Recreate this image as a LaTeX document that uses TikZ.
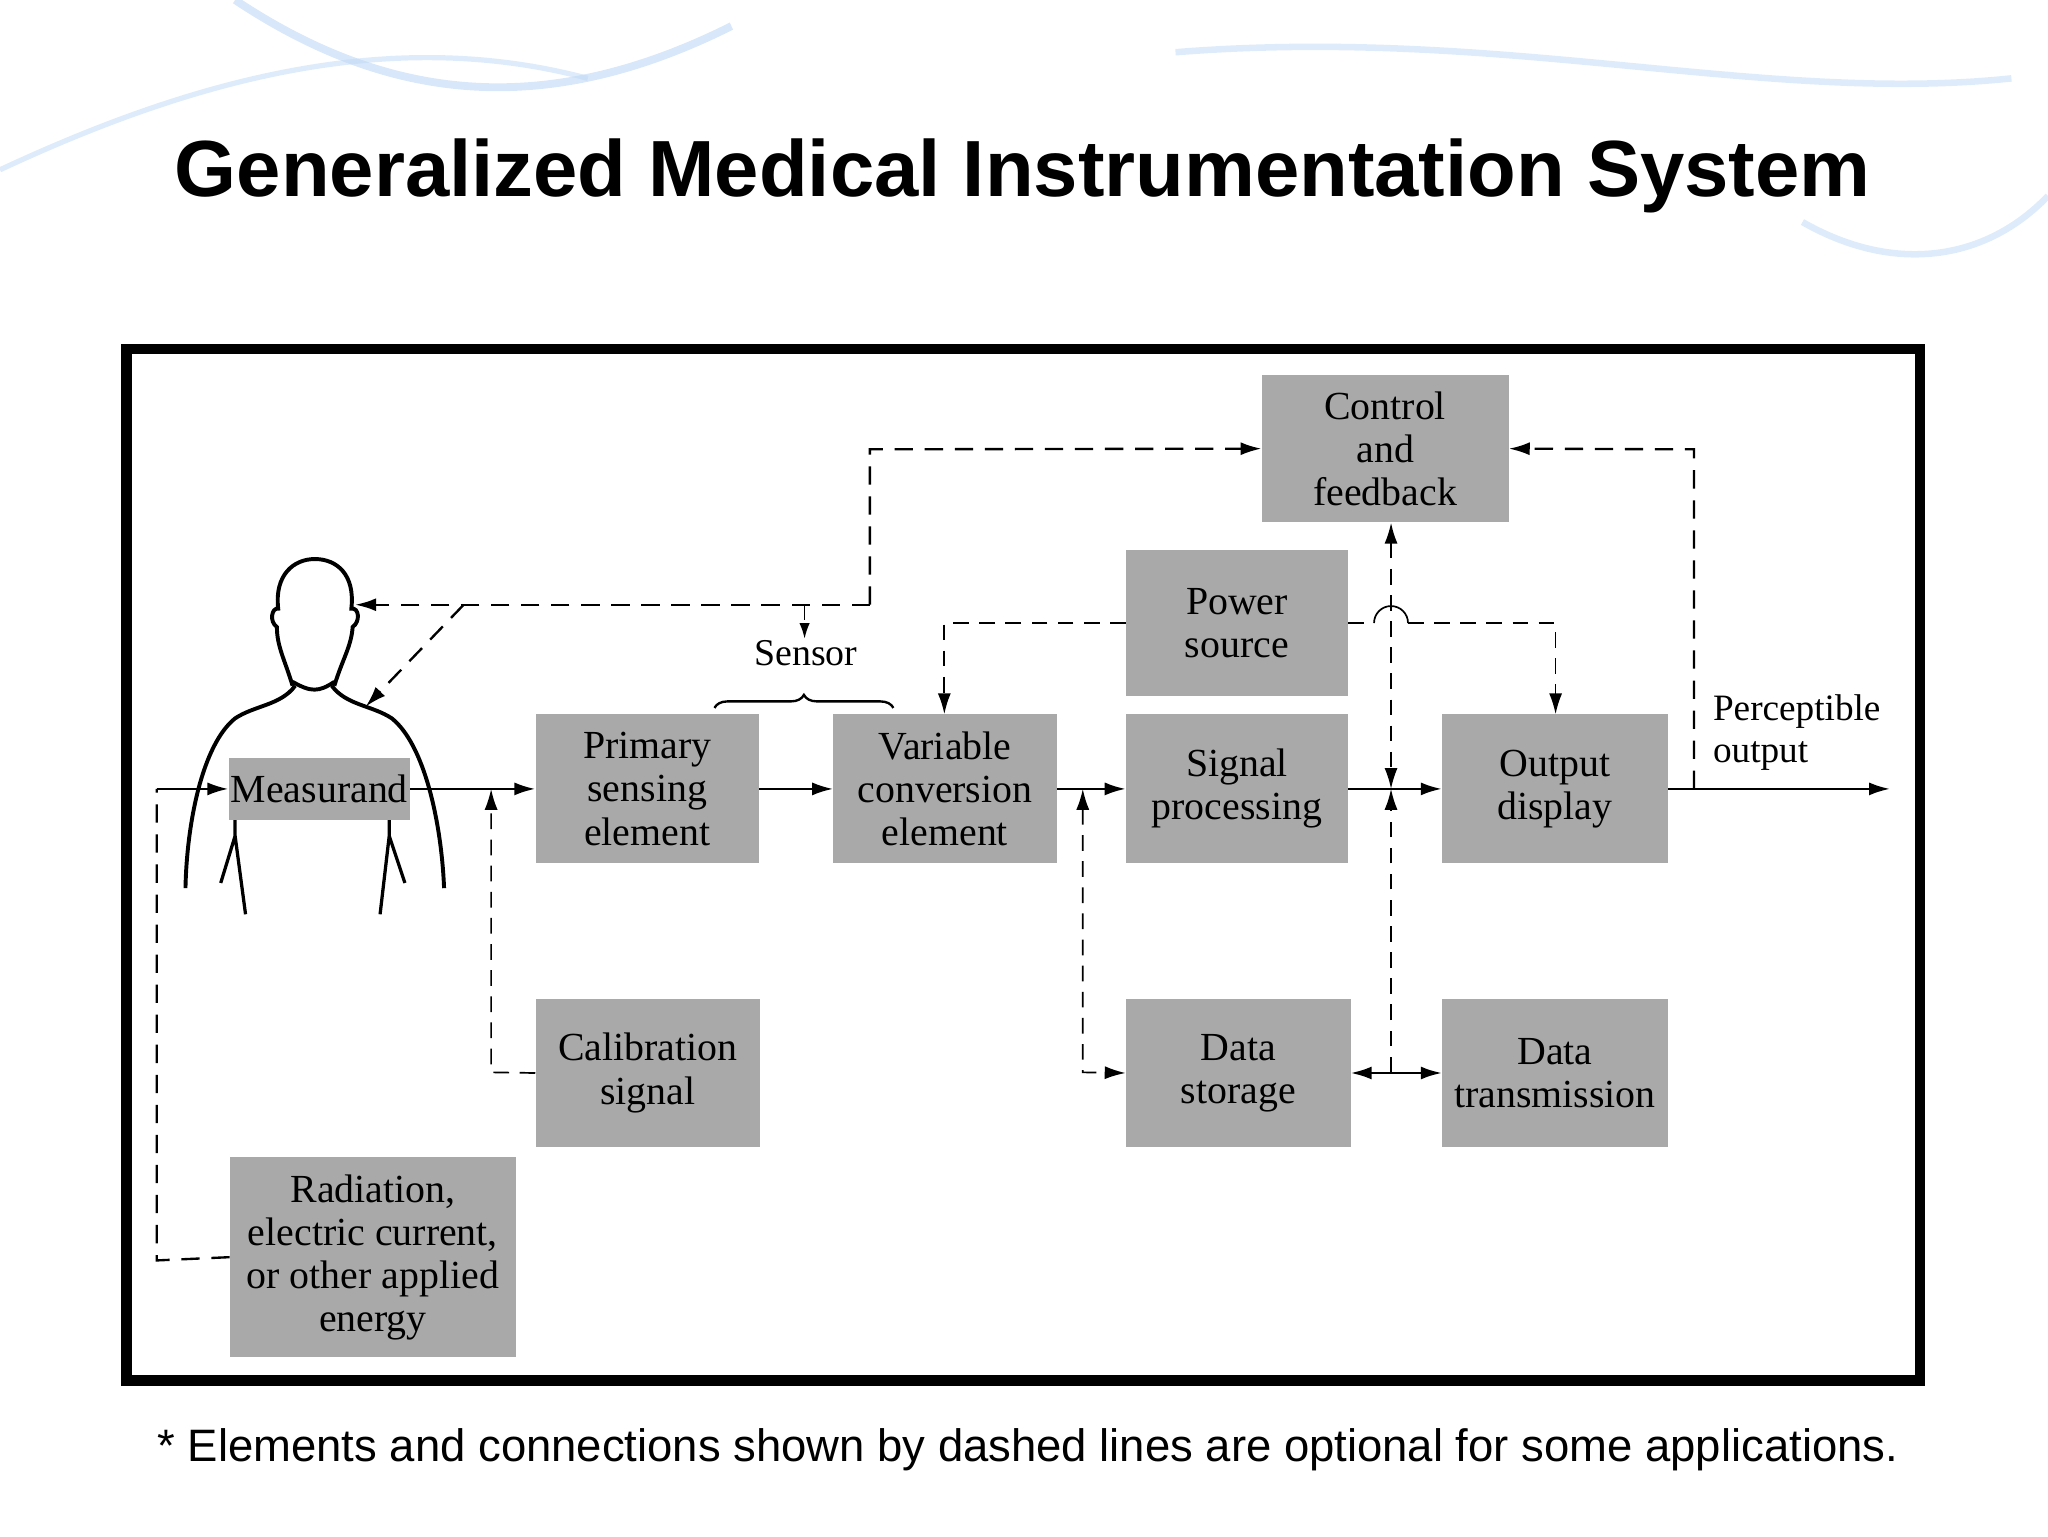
\documentclass[tikz,border=0pt]{standalone}
\usepackage{fontspec}
\setmainfont{Liberation Serif}
\newfontfamily\slidefont{Liberation Sans}
\usetikzlibrary{arrows.meta,decorations.pathreplacing}
\definecolor{boxgray}{RGB}{169,169,169}
\definecolor{swirl}{RGB}{190,215,245}
\tikzset{
  block/.style={fill=boxgray, inner sep=0pt, align=center, font=\fontsize{30.5}{33}\selectfont},
  arr/.style={-{Latex[length=16pt,width=10pt]}, line width=1.8pt},
  opt/.style={line width=1.8pt, dash pattern=on 14pt off 9pt},
  thin opt/.style={line width=1.3pt, dash pattern=on 12pt off 8pt},
}
\begin{document}
\begin{tikzpicture}[x=1pt,y=-1pt,>={Latex[length=16pt,width=10pt]}]
	\useasboundingbox (0,0) rectangle (1568,1176);
	% background swirls
	\draw[swirl, line width=6pt, opacity=.6] (180,0) .. controls (300,80) and (420,90) .. (560,20);
	\draw[swirl, line width=4pt, opacity=.5] (0,130) .. controls (150,60) and (300,20) .. (450,60);
	\draw[swirl, line width=5pt, opacity=.5] (900,40) .. controls (1150,20) and (1350,80) .. (1540,60);
	\draw[swirl, line width=5pt, opacity=.5] (1380,170) .. controls (1450,210) and (1520,200) .. (1568,150);
	% title and note
	\node[font=\slidefont\bfseries\fontsize{61}{66}\selectfont] (title) at (783,135) {Generalized Medical Instrumentation System};
	\node[font=\slidefont\fontsize{34.8}{40}\selectfont] (note) at (787,1110) {* Elements and connections shown by dashed lines are optional for some applications.};
	\draw[line width=8pt] (97,267) rectangle (1470,1057);
	
	% blocks
	\node[block, minimum width=189pt, minimum height=113pt] (ctrl) at (1060.5,343.5) {Control\\and\\feedback};
	\node[block, minimum width=170pt, minimum height=112pt] (power) at (947,477) {Power\\source};
	\node[block, minimum width=171pt, minimum height=114pt] (prim) at (495.5,604) {Primary\\sensing\\element};
	\node[block, minimum width=171pt, minimum height=114pt] (var) at (723.5,604) {Variable\\conversion\\element};
	\node[block, minimum width=170pt, minimum height=114pt] (sig) at (947,604) {Signal\\processing};
	\node[block, minimum width=173pt, minimum height=114pt] (out) at (1190.5,604) {Output\\display};
	\node[block, minimum width=172pt, minimum height=113pt] (cal) at (496,821.5) {Calibration\\signal};
	\node[block, minimum width=172pt, minimum height=113pt] (store) at (948,821.5) {Data\\storage};
	\node[block, minimum width=173pt, minimum height=113pt] (trans) at (1190.5,821.5) {Data\\transmission};
	\node[block, minimum width=219pt, minimum height=153pt] (rad) at (285.5,962.5) {Radiation,\\electric current,\\or other applied\\energy};
	
	% person
	\draw[line width=3pt] (224,525) .. controls (218,505) and (212,495) .. (212,480)
	  .. controls (206,476) and (208,465) .. (213,466) .. controls (210,440) and (225,428) .. (241,428)
	  .. controls (258,428) and (272,440) .. (269,466) .. controls (275,465) and (276,476) .. (270,480)
	  .. controls (269,495) and (262,505) .. (256,525);
	\draw[line width=3pt] (224,522) .. controls (238,530) and (244,530) .. (256,522);
	\draw[line width=3pt] (226,525) .. controls (215,540) and (195,540) .. (180,550)
	  .. controls (155,570) and (143,630) .. (142,680);
	\draw[line width=3pt] (254,525) .. controls (265,540) and (285,540) .. (300,550)
	  .. controls (325,570) and (338,630) .. (340,680);
	\draw[line width=2.5pt] (180,622) -- (180,640) -- (169,676) (180,640) -- (188,700);
	\draw[line width=2.5pt] (298,622) -- (298,640) -- (310,676) (298,640) -- (291,700);
	\node[block, minimum width=139pt, minimum height=48pt] (meas) at (244.5,604) {Measurand};
	
	% main signal path
	\coordinate (in) at (120,604);
	\coordinate (end) at (1447,604);
	\draw[arr] (in) -- (meas);
	\draw[arr] (meas) -- (prim);
	\draw[arr] (prim) -- (var);
	\draw[arr] (var) -- (sig);
	\draw[arr] (sig) -- (out);
	\draw[arr] (out) -- (end);
	\node[font=\fontsize{28.5}{32}\selectfont, align=left, anchor=west] (perc) at (1308,561) {Perceptible\\output};
	
	% sensor brace
	\draw[decorate, decoration={brace, amplitude=10pt}, line width=1.8pt] (547,542) -- (684,542);
	\node[font=\fontsize{29}{32}\selectfont] (sensor) at (617,500) {Sensor};
	
	% optional connections
	\coordinate (rc) at (120,965);
	\draw[opt] (rad.west) -- (rc) -- (in);
	\coordinate (cc) at (376,821);
	\draw[thin opt, ->] (cal.west) -- (cc) -- (376,604);
	\draw[thin opt, <->] (829,604) -- (829,821) -- (store.west);
	\draw[arr, <->] (store.east) -- (trans.west);
	\draw[thin opt, ->] (1065,821) -- (1065,604);
	\draw[thin opt, <->] (ctrl.south -| 1065,0) -- (1065,604);
	\coordinate (fb) at (1297,604);
	\draw[opt, ->] (fb) -- (1297,344) -- (ctrl.east);
	\coordinate (top) at (666,463);
	\draw[opt, ->] (top) -- (666,344) -- (ctrl.west);
	\draw[opt, ->] (top) -- (272,463);
	\draw[thin opt, -{Latex[length=12pt,width=8pt]}] (616,463) -- (616,489);
	\draw[opt, ->] (355,463) -- (280,541);
	\draw[thin opt, ->] (power.west) -- (723,477) -- (var.north -| 723,0);
	\draw[thin opt] (power.east) -- (1052,477);
	\draw[line width=1.3pt] (1052,477) arc[start angle=180, end angle=0, radius=13pt];
	\draw[thin opt, ->] (1078,477) -- (1191,477) -- (out.north -| 1191,0);
\end{tikzpicture}
\end{document}
